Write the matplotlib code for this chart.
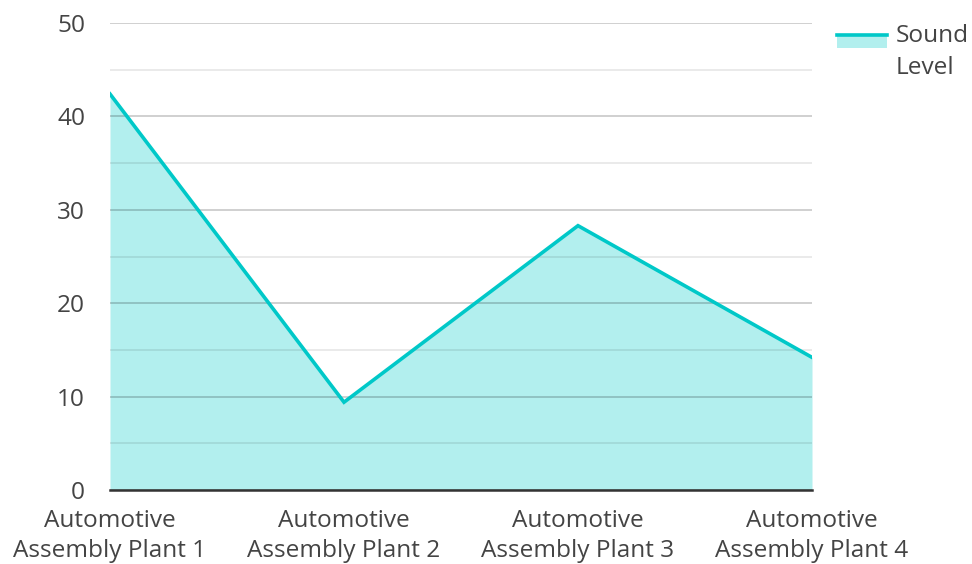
import matplotlib.pyplot as plt
from matplotlib.patches import Rectangle
from matplotlib.lines import Line2D

plt.rcParams['font.family'] = ['Open Sans', 'DejaVu Sans']

plants = ['Automotive\nAssembly Plant 1', 'Automotive\nAssembly Plant 2',
          'Automotive\nAssembly Plant 3', 'Automotive\nAssembly Plant 4']
sound_level = [42.4, 9.4, 28.3, 14.2]
yticks = [0, 10, 20, 30, 40, 50]

line_col = '#00c8c8'
fill_col = '#b2efee'
text_col = '#444444'

fig = plt.figure(figsize=(9.72, 5.64), dpi=100)
ax = fig.add_axes([110/972, 74/564, 702/972, 467/564])

x = list(range(len(plants)))
ax.fill_between(x, sound_level, 0, color=fill_col, lw=0, zorder=1)
ax.plot(x, sound_level, color=line_col, lw=2.6, zorder=3, solid_joinstyle='miter')

ax.set_xlim(0, 3)
ax.set_ylim(0, 50)
ax.set_yticks(yticks)
ax.set_yticks([5, 15, 25, 35, 45], minor=True)
ax.set_xticks(x)
ax.set_xticklabels(plants, linespacing=1.3)
ax.grid(axis='y', which='major', color='black', alpha=0.2, lw=1.3)
ax.grid(axis='y', which='minor', color='black', alpha=0.09, lw=1.3)
ax.set_axisbelow(False)  # grid shows through the fill
ax.tick_params(axis='both', which='both', length=0, labelsize=17.6, colors=text_col)
ax.tick_params(axis='y', pad=18)
ax.tick_params(axis='x', pad=14)
for side in ['top', 'right', 'left']:
  ax.spines[side].set_visible(False)
ax.spines['bottom'].set_color('#333333')
ax.spines['bottom'].set_linewidth(1.8)
ax.spines['bottom'].set_zorder(4)

# legend drawn by hand: fill swatch with line on top
W, H = 972, 564
fig.add_artist(Rectangle((837/W, 1-48/H), 50/W, 14/H, transform=fig.transFigure,
                         color=fill_col, lw=0))
fig.add_artist(Line2D([837/W, 887/W], [1-35/H, 1-35/H], transform=fig.transFigure,
                      color=line_col, lw=2.6))
fig.text(896/W, 1-52/H, 'Sound\nLevel', fontsize=17.6, color=text_col, va='center',
         ha='left', linespacing=1.4)

fig.savefig('out.png', dpi=100)
